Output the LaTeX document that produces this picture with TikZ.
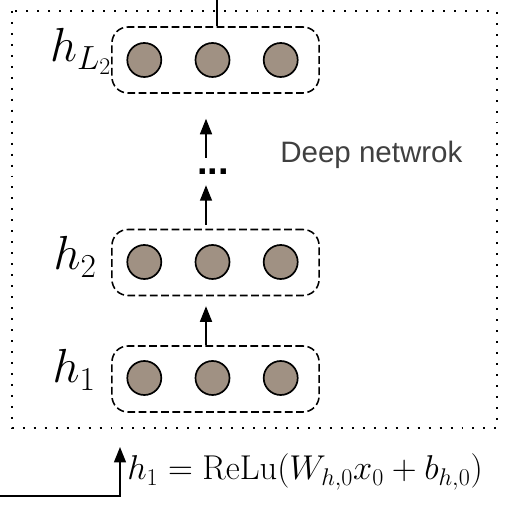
\RequirePackage{fix-cm}
\documentclass[tikz,border=0pt]{standalone}
\usepackage{fontspec}
\usepackage{amsmath}
\usetikzlibrary{positioning,arrows.meta}
\newfontfamily\arialfont{Liberation Sans}
\definecolor{unitFill}{RGB}{160,145,131}
\definecolor{noteGray}{RGB}{64,64,64}

\begin{document}
\begin{tikzpicture}[x=0.025cm, y=-0.025cm]
\tikzstyle{layer}=[draw, dash pattern=on 5.5pt off 2.5pt, line width=1.1pt, rounded corners=0.4cm, minimum width=5.175cm, minimum height=1.65cm]
\tikzstyle{neuron}=[draw, circle, fill=unitFill, line width=1.2pt, minimum size=0.85cm, inner sep=0pt]
\tikzstyle{arr}=[-{Triangle[length=11pt,width=8.5pt]}, line width=1.2pt]
\tikzstyle{lab}=[anchor=base east, inner sep=0pt, font=\fontsize{34}{40}\selectfont]
\useasboundingbox (0,0) rectangle (520,510);
% deep network frame
\draw[line width=1.4pt, dash pattern=on 1.4pt off 6.4pt] (12,11) rectangle (497,428);
\node[anchor=base west, inner sep=0pt, text=noteGray, font=\arialfont\fontsize{21}{25}\selectfont] (deep) at (280,163) {Deep netwrok};
% layers
\node[layer] (h1box) at (215.5,379) {};
\node[layer] (h2box) at (215.5,262.5) {};
\node[layer] (hLbox) at (215.5,60) {};
\node[neuron] (n12) at (212.5,378) {};
\node[neuron, left=0.8125cm of n12] (n11) {};
\node[neuron, right=0.8125cm of n12] (n13) {};
\node[neuron] (n22) at (212.5,262) {};
\node[neuron, left=0.8125cm of n22] (n21) {};
\node[neuron, right=0.8125cm of n22] (n23) {};
\node[neuron] (nL2) at (212.5,60) {};
\node[neuron, left=0.8125cm of nL2] (nL1) {};
\node[neuron, right=0.8125cm of nL2] (nL3) {};
\node[lab] (lab1) at (96,383) {$h_1$};
\node[lab] (lab2) at (97,270) {$h_2$};
\node[lab] (labL) at (112,62) {$h_{L_2}$};
\node[inner sep=0pt, minimum height=0.675cm, font=\arialfont\bfseries\fontsize{27}{30}\selectfont] (dots) at (213,171.5) {...};
% arrows between layers
\coordinate (ax) at (206,0);
\draw[arr, shorten >=0.25cm] (h1box.north -| ax) -- (h2box.south -| ax);
\draw[arr, shorten <=0.1cm] (h2box.north -| ax) -- (dots.south -| ax);
\draw[arr, shorten >=0.625cm] (dots.north -| ax) -- (hLbox.south -| ax);
% output and input
\coordinate (out) at (217,0);
\draw[line width=1pt] (hLbox.north -| out) -- (out);
\coordinate (inL) at (0,496);
\coordinate (inT) at (120,447);
\draw[arr] (inL) -| (inT);
\node[anchor=base west, inner sep=0pt, font=\fontsize{24.5}{28}\selectfont] (relu) at (127,480) {$h_1 = \mathrm{ReLu}(W_{h,0}x_0 + b_{h,0})$};
\end{tikzpicture}
\end{document}
